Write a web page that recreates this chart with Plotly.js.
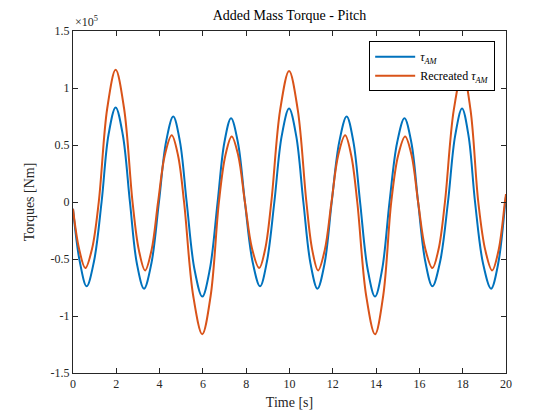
<!DOCTYPE html>
<html>
<head>
<meta charset="utf-8">
<script src="https://cdn.plot.ly/plotly-3.0.1.min.js"></script>
<style>html,body{margin:0;padding:0;background:#fff;}#plot{width:560px;height:420px;}</style>
</head>
<body>
<div id="plot"></div>
<script>
// Time [s] and torque [Nm]
var tBlue = [0,0.31,0.63,0.97,1.32,1.64,1.97,2.30,2.63,2.95,3.28,3.62,3.97,4.30,4.63,4.94,5.25,5.61,5.97,6.32,6.68,6.99,7.30,7.62,7.94,8.29,8.64,8.96,9.30,9.64,9.98,10.31,10.64,10.97,11.29,11.62,11.95,12.30,12.64,12.95,13.26,13.61,13.95,14.28,14.62,14.97,15.31,15.63,15.94,16.27,16.60,16.96,17.32,17.65,17.97,18.27,18.57,18.94,19.31,19.64,19.97,20];
var vBlue = [-6000,-52000,-74000,-52000,0,59000,83000,59000,0,-54000,-76000,-54000,0,53000,75000,53000,0,-59000,-83000,-59000,0,52000,73500,52000,0,-52000,-74000,-52000,0,58000,82000,58000,0,-54000,-76000,-54000,0,53000,75000,53000,0,-59000,-83000,-59000,0,52000,73500,52000,0,-52000,-74000,-52000,0,58000,82000,58000,0,-54000,-76000,-54000,0,5000];
var tOrange = [0,0.28,0.57,0.88,1.19,1.58,1.97,2.36,2.75,3.04,3.33,3.63,3.93,4.24,4.56,4.85,5.13,5.55,5.97,6.36,6.74,7.04,7.33,7.63,7.94,8.27,8.60,8.88,9.16,9.57,9.98,10.38,10.78,11.05,11.32,11.63,11.94,12.25,12.57,12.85,13.13,13.54,13.95,14.33,14.70,15.02,15.34,15.64,15.94,16.27,16.60,16.89,17.18,17.59,18.00,18.36,18.72,19.04,19.36,19.66,19.95,20];
var vOrange = [-6000,-41000,-58000,-41000,0,82000,116000,82000,0,-42000,-60000,-42000,0,41000,58500,41000,0,-82000,-116000,-82000,0,41000,57500,41000,0,-41000,-58000,-41000,0,81000,115000,81000,0,-42000,-60000,-42000,0,41000,58500,41000,0,-82000,-116000,-82000,0,41000,57500,41000,0,-41000,-58000,-41000,0,81000,115000,81000,0,-42000,-60000,-42000,0,7000];

var xTicks = [0,2,4,6,8,10,12,14,16,18,20];
var yTickVals = [-150000,-100000,-50000,0,50000,100000,150000];
var yTickText = ['-1.5','-1','-0.5','0','0.5','1','1.5'];
var seriesNames = ['<i>τ<sub>AM</sub></i>', 'Recreated <i>τ<sub>AM</sub></i>'];

var fontFam = 'Liberation Serif, DejaVu Serif, serif';
var axisColor = '#262626';

var traces = [
  {x: tBlue, y: vBlue, mode: 'lines', name: seriesNames[0],
   line: {color: '#0072BD', width: 2, shape: 'spline'}},
  {x: tOrange, y: vOrange, mode: 'lines', name: seriesNames[1],
   line: {color: '#D95319', width: 2, shape: 'spline'}}
];

var axisCommon = {
  showgrid: false, zeroline: false, showline: true, linecolor: axisColor, linewidth: 1,
  mirror: 'ticks', ticks: 'inside', ticklen: 5, tickcolor: axisColor, tickwidth: 1,
  tickfont: {family: fontFam, size: 12, color: axisColor}
};

var layout = {
  width: 560, height: 420,
  margin: {l: 73, r: 54, t: 31, b: 47},
  paper_bgcolor: '#fff', plot_bgcolor: '#fff',
  font: {family: fontFam, color: axisColor},
  title: {text: 'Added Mass Torque - Pitch', font: {family: fontFam, size: 14, color: '#000'},
          x: 0.5, xref: 'paper', xanchor: 'center', y: 0.965, yanchor: 'middle'},
  xaxis: Object.assign({}, axisCommon, {
    range: [0, 20], tickmode: 'array', tickvals: xTicks,
    title: {text: 'Time [s]', font: {family: fontFam, size: 14, color: axisColor}, standoff: 6}
  }),
  yaxis: Object.assign({}, axisCommon, {
    range: [-150000, 150000], tickmode: 'array', tickvals: yTickVals, ticktext: yTickText,
    title: {text: 'Torques [Nm]', font: {family: fontFam, size: 14, color: axisColor}, standoff: 12}
  }),
  showlegend: true,
  legend: {x: 0.975, y: 0.97, xanchor: 'right', yanchor: 'top',
           bgcolor: '#fff', bordercolor: '#000', borderwidth: 1, itemwidth: 40,
           font: {family: fontFam, size: 12, color: '#000'}, tracegroupgap: 0},
  annotations: [{
    text: '×10<sup>5</sup>', xref: 'paper', yref: 'paper', x: 0, y: 1,
    xanchor: 'left', yanchor: 'bottom', showarrow: false, yshift: 0,
    font: {family: fontFam, size: 12, color: axisColor}
  }]
};

Plotly.newPlot('plot', traces, layout, {displayModeBar: false, staticPlot: true});
</script>
</body>
</html>
